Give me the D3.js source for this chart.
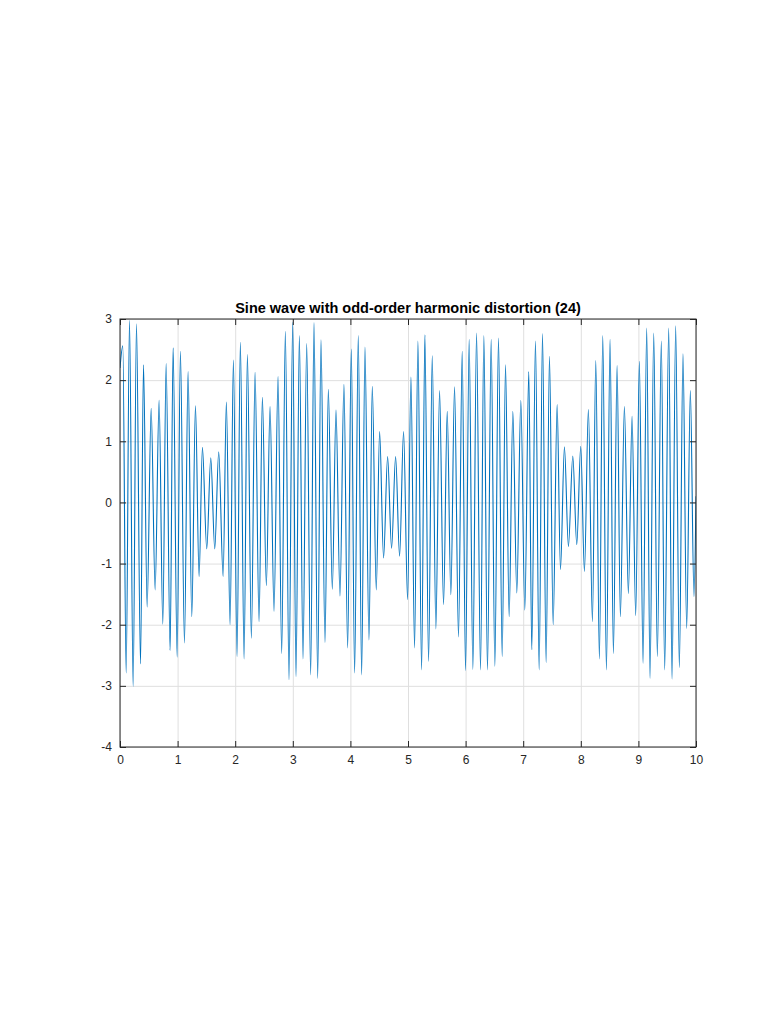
<!DOCTYPE html>
<html>
<head>
<meta charset="utf-8">
<script src="https://cdn.jsdelivr.net/npm/d3@7"></script>
<style>
  body { margin: 0; background: #fff; }
  svg { display: block; }
</style>
</head>
<body>
<svg id="chart"></svg>
<script>
// extrema of the waveform (time, value)
const peakTimes = [
  0, 0.049, 0.107, 0.165, 0.228, 0.286, 0.356, 0.408, 0.471, 0.541, 0.610, 0.679, 0.743, 0.801, 0.870, 0.922, 0.992, 1.049, 1.119, 1.182, 1.246, 1.310, 1.373, 1.431, 1.506,
  1.576, 1.645, 1.714, 1.790, 1.847, 1.911, 1.969, 2.032, 2.090, 2.154, 2.212, 2.281, 2.345, 2.414, 2.472, 2.541, 2.605, 2.674, 2.744, 2.807, 2.871, 2.934, 2.998, 3.056,
  3.114, 3.177, 3.241, 3.310, 3.368, 3.432, 3.489, 3.559, 3.617, 3.686, 3.750, 3.819, 3.888, 3.952, 4.016, 4.073, 4.137, 4.195, 4.253, 4.322, 4.380, 4.449, 4.507, 4.576, 4.646,
  4.715, 4.785, 4.854, 4.923, 4.993, 5.051, 5.114, 5.172, 5.236, 5.293, 5.357, 5.421, 5.484, 5.548, 5.617, 5.681, 5.744, 5.808, 5.877, 5.941, 5.999, 6.062, 6.126, 6.190,
  6.259, 6.317, 6.380, 6.444, 6.508, 6.571, 6.635, 6.693, 6.756, 6.820, 6.889, 6.959, 7.028, 7.097, 7.149, 7.213, 7.277, 7.335, 7.398, 7.456, 7.520, 7.589, 7.647, 7.716, 7.785,
  7.861, 7.930, 7.999, 8.063, 8.132, 8.202, 8.260, 8.323, 8.381, 8.445, 8.508, 8.566, 8.630, 8.687, 8.757, 8.826, 8.890,
  8.953, 9.017, 9.081, 9.144, 9.202, 9.266, 9.329, 9.398, 9.456, 9.526, 9.584, 9.647, 9.711, 9.774, 9.838, 9.902, 9.965, 10.0
]
const peakValues = [
  2.2, 2.56, -2.79, 2.98, -3.01, 2.92, -2.64, 2.25, -1.71, 1.54, -1.43, 1.67, -1.99, 2.27, -2.42, 2.53, -2.53, 2.47, -2.30, 2.14, -1.87, 1.58, -1.21, 0.90, -0.76,
  0.73, -0.76, 0.83, -1.21, 1.64, -2.00, 2.33, -2.52, 2.62, -2.56, 2.42, -2.22, 2.13, -1.95, 1.72, -1.36, 1.57, -1.78, 2.06, -2.47, 2.80, -2.90, 2.95, -2.85,
  2.73, -2.56, 2.60, -2.82, 2.94, -2.88, 2.66, -2.29, 1.85, -1.42, 1.51, -1.53, 1.93, -2.38, 2.51, -2.79, 2.73, -2.82, 2.54, -2.25, 1.90, -1.43, 1.16, -0.91, 0.75,
  -0.75, 0.75, -0.88, 1.16, -1.59, 2.05, -2.38, 2.64, -2.74, 2.74, -2.60, 2.40, -2.07, 1.83, -1.67, 1.49, -1.51, 1.89, -2.20, 2.47, -2.75, 2.67, -2.73, 2.77,
  -2.74, 2.73, -2.74, 2.67, -2.68, 2.69, -2.52, 2.25, -1.87, 1.49, -1.48, 1.67, -1.76, 2.14, -2.41, 2.64, -2.74, 2.76, -2.62, 2.39, -2.00, 1.60, -1.10, 0.91, -0.72,
  0.76, -0.69, 0.92, -1.13, 1.52, -1.95, 2.32, -2.56, 2.73, -2.74, 2.67, -2.47, 2.24, -1.87, 1.57, -1.49, 1.41,
  -1.85, 2.31, -2.63, 2.85, -2.88, 2.77, -2.52, 2.64, -2.74, 2.85, -2.89, 2.89, -2.70, 2.43, -2.06, 1.83, -1.54, 0.1
]
const xTicks = [0, 1, 2, 3, 4, 5, 6, 7, 8, 9, 10]
const yTicks = [-4, -3, -2, -1, 0, 1, 2, 3]
const chartTitle = "Sine wave with odd-order harmonic distortion (24)"

const width = 768, height = 1024
const plotLeft = 120, plotRight = 696, plotTop = 319, plotBottom = 747
const axisColor = "#262626"
const fontFamily = "'Liberation Sans', Arial, Helvetica, sans-serif"

const svg = d3.select("#chart")
    .attr("width", width)
    .attr("height", height)

const x = d3.scaleLinear().domain([0, 10]).range([plotLeft, plotRight])
const y = d3.scaleLinear().domain([-4, 3]).range([plotBottom, plotTop])

const data = peakTimes.map((t, i) => ({ t: t, v: peakValues[i] }))

// plain labels with an ascii hyphen for negatives, like the original
let plainFormat = d => String(d)

// grid
svg.append("g")
    .attr("transform", `translate(0,${plotBottom})`)
    .call(d3.axisBottom(x).tickValues(xTicks).tickSize(-(plotBottom - plotTop)).tickFormat(""))
    .call(g => g.select(".domain").remove())
    .call(g => g.selectAll("line").attr("stroke", "#dfdfdf"))

svg.append("g")
    .attr("transform", `translate(${plotLeft},0)`)
    .call(d3.axisLeft(y).tickValues(yTicks).tickSize(-(plotRight - plotLeft)).tickFormat(""))
    .call(g => g.select(".domain").remove())
    .call(g => g.selectAll("line").attr("stroke", "#dfdfdf"))

// signal
svg.append("clipPath").attr("id", "plot-clip")
    .append("rect")
    .attr("x", plotLeft).attr("y", plotTop)
    .attr("width", plotRight - plotLeft).attr("height", plotBottom - plotTop)

let line = d3.line()
    .x(d => x(d.t))
    .y(d => y(d.v))
    .curve(d3.curveMonotoneX)

svg.append("path")
    .datum(data)
    .attr("clip-path", "url(#plot-clip)")
    .attr("fill", "none")
    .attr("stroke", "#0072bd")
    .attr("stroke-width", 1.1)
    .attr("d", line)

// axes, ticks pointing inward on all four sides
let styleAxis = g => {
    g.select(".domain").remove()
    g.selectAll("line").attr("stroke", axisColor)
    g.selectAll("text")
        .attr("fill", axisColor)
        .style("font-family", fontFamily)
        .style("font-size", "12px")
}

svg.append("g")
    .attr("transform", `translate(0,${plotBottom})`)
    .call(d3.axisBottom(x).tickValues(xTicks).tickFormat(plainFormat)
        .tickSizeInner(-6).tickSizeOuter(0).tickPadding(8))
    .call(styleAxis)

svg.append("g")
    .attr("transform", `translate(0,${plotTop})`)
    .call(d3.axisTop(x).tickValues(xTicks).tickSizeInner(-6).tickSizeOuter(0).tickFormat(""))
    .call(styleAxis)

svg.append("g")
    .attr("transform", `translate(${plotLeft},0)`)
    .call(d3.axisLeft(y).tickValues(yTicks).tickFormat(plainFormat)
        .tickSizeInner(-6).tickSizeOuter(0).tickPadding(8))
    .call(styleAxis)

svg.append("g")
    .attr("transform", `translate(${plotRight},0)`)
    .call(d3.axisRight(y).tickValues(yTicks).tickSizeInner(-6).tickSizeOuter(0).tickFormat(""))
    .call(styleAxis)

svg.append("rect")
    .attr("x", plotLeft).attr("y", plotTop)
    .attr("width", plotRight - plotLeft).attr("height", plotBottom - plotTop)
    .attr("fill", "none")
    .attr("stroke", axisColor)
    .attr("stroke-width", 1)

svg.append("text")
    .attr("x", (plotLeft + plotRight) / 2)
    .attr("y", 313)
    .attr("text-anchor", "middle")
    .attr("fill", "#000")
    .style("font-family", fontFamily)
    .style("font-weight", "bold")
    .style("font-size", "14.5px")
    .text(chartTitle)
</script>
</body>
</html>
